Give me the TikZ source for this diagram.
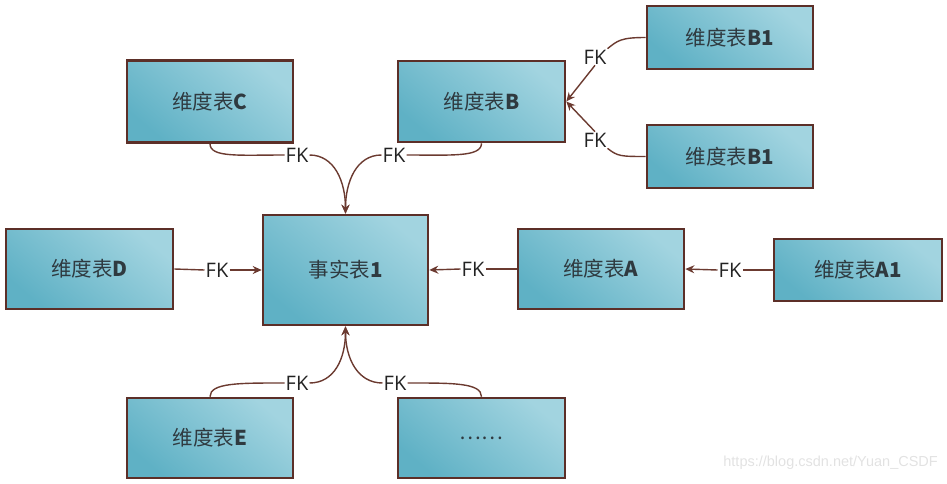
\documentclass[tikz,border=0pt]{standalone}
\usepackage{fontspec}
\setmainfont{Open Sans}
\newfontfamily\cjkfont{Noto Sans CJK SC}
\newfontfamily\wmfont{Liberation Sans}
\usetikzlibrary{arrows.meta}
\definecolor{boxlight}{HTML}{A2D4E0}
\definecolor{boxdark}{HTML}{5FB1C5}
\definecolor{boxline}{HTML}{5C2F28}
\definecolor{arrline}{HTML}{6B3A30}
\definecolor{boxtext}{HTML}{2F3A40}
\definecolor{fktext}{HTML}{222222}
\definecolor{wmark}{HTML}{E2E2E2}
\tikzset{
  tbl/.style={draw=boxline, line width=2.6pt, top color=boxlight, bottom color=boxdark,
    shading angle=-40, inner sep=0pt, text=boxtext,
    font=\cjkfont\fontsize{20.5}{24}\selectfont},
  fk/.style={inner sep=1pt, text=fktext, font=\fontsize{20}{22}\selectfont},
  conn/.style={draw=arrline, line width=1.4pt},
  arr/.style={conn, -{Stealth[length=9pt,width=8pt]}},
}
\begin{document}
\begin{tikzpicture}[x=1pt,y=-1pt]
\useasboundingbox (0,0) rectangle (947,484);
% tables
\node[tbl, minimum width=166pt, minimum height=82pt] (C) at (210,101.5) {维度表\textbf{C}};
\node[tbl, minimum width=167pt, minimum height=81pt] (B) at (481.5,101.5) {维度表\textbf{B}};
\node[tbl, minimum width=166pt, minimum height=63pt] (B1a) at (730,37.5) {维度表\textbf{B1}};
\node[tbl, minimum width=166pt, minimum height=63pt] (B1b) at (730,156.5) {维度表\textbf{B1}};
\node[tbl, minimum width=167pt, minimum height=80pt] (D) at (89.5,269) {维度表\textbf{D}};
\node[tbl, minimum width=165pt, minimum height=110pt] (F) at (345.5,270) {事实表\textbf{1}};
\node[tbl, minimum width=166pt, minimum height=80pt] (A) at (601,269) {维度表\textbf{A}};
\node[tbl, minimum width=168pt, minimum height=62pt] (A1) at (858,270) {维度表\textbf{A1}};
\node[tbl, minimum width=166pt, minimum height=80pt] (E) at (210,438) {维度表\textbf{E}};
\node[tbl, minimum width=167pt, minimum height=80pt] (dots) at (481.5,438) {……};
% FK labels
\node[fk] (fkD) at (217,270) {FK};
\node[fk] (fkA) at (473,269) {FK};
\node[fk] (fkA1) at (730,270) {FK};
\node[fk] (fkC) at (297,155) {FK};
\node[fk] (fkB) at (394,155) {FK};
\node[fk] (fkE) at (297,383) {FK};
\node[fk] (fkS) at (395,383) {FK};
\node[fk] (fkB1a) at (595,57) {FK};
\node[fk] (fkB1b) at (595,140) {FK};
% horizontal connectors
\draw[conn] (D.east) -- (fkD.west);
\draw[arr] (fkD.east) -- (F.west);
\draw[conn] (A.west) -- (fkA.east);
\draw[arr] (fkA.west) -- (F.east);
\draw[conn] (A1.west) -- (fkA1.east);
\draw[arr] (fkA1.west) -- (A.east);
% top connectors to fact table
\draw[conn] (C.south) .. controls +(0,14) and +(-45,0) .. (fkC.west);
\draw[arr] (fkC.east) .. controls +(25,0) and +(0,-32) .. (F.north);
\draw[conn] (B.south) .. controls +(0,14) and +(45,0) .. (fkB.east);
\draw[arr] (fkB.west) .. controls +(-25,0) and +(0,-32) .. (F.north);
% bottom connectors to fact table
\draw[conn] (E.north) .. controls +(0,-14) and +(-45,0) .. (fkE.west);
\draw[arr] (fkE.east) .. controls +(25,0) and +(0,32) .. (F.south);
\draw[conn] (dots.north) .. controls +(0,-14) and +(45,0) .. (fkS.east);
\draw[arr] (fkS.west) .. controls +(-25,0) and +(0,32) .. (F.south);
% B1 connectors to B
\draw[conn] (B1a.west) .. controls +(-25,0) and +(10,-8) .. (fkB1a.north east);
\draw[arr] (fkB1a.south) -- (B.east);
\draw[conn] (B1b.west) .. controls +(-25,0) and +(10,8) .. (fkB1b.south east);
\draw[arr] (fkB1b.north) -- (B.east);
% watermark
\node[text=wmark, font=\wmfont\fontsize{14.5}{16}\selectfont, anchor=east, inner sep=0pt] (wm) at (938,463) {https://blog.csdn.net/Yuan\_CSDF};
\end{tikzpicture}
\end{document}
